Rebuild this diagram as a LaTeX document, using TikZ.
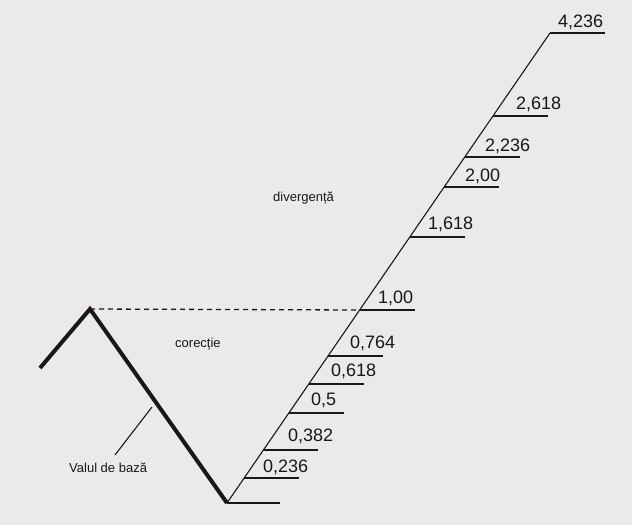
\documentclass[tikz,border=0pt]{standalone}
\usepackage{fontspec}
\setmainfont{Liberation Sans}
\usetikzlibrary{calc}
\definecolor{bg}{RGB}{236,234,232}
\definecolor{ink}{RGB}{24,24,24}
\begin{document}
\begin{tikzpicture}[x=1pt,y=-1pt,
  wave/.style={draw=ink,line width=4pt,line join=miter},
  thin/.style={draw=ink,line width=1.1pt},
  tick/.style={draw=ink,line width=1.3pt},
  lvl/.style={anchor=base west,inner sep=0pt,text=ink,font=\fontsize{18}{18}\selectfont},
  lab/.style={anchor=base west,inner sep=0pt,text=ink,font=\fontsize{13}{13}\selectfont},
  guide/.style={draw=ink,line width=1.3pt,dash pattern=on 5pt off 4pt}]
\fill[bg] (0,0) rectangle (632,525);
\useasboundingbox (0,0) rectangle (632,525);
% main wave
\coordinate (A) at (40,368);
\coordinate (P) at (90,309);
\coordinate (B) at (227,503);
\coordinate (T) at (550,33);
\coordinate (Bend) at (280,503);
\draw[wave] (A) -- (P) -- (B);
\draw[thin] (B) -- (T);
\draw[tick] (B) -- (Bend);
% tick start points on the diagonal
\foreach \nm/\yy in {t0236/478,t0382/450,t05/413,t0618/384,t0764/356,t100/310,t1618/237,t200/187,t2236/157,t2618/116,t4236/33}{
  \coordinate (\nm) at ($(B)!{(503-\yy)/470}!(T)$);
  \coordinate (\nm e) at ($(\nm)+(55,0)$);
  \draw[tick] (\nm) -- (\nm e);
}
% dashed guide
\draw[guide] (P) -- (t100);
% level labels
\node[lvl] (l0236) at (263,472.5) {0,236};
\node[lvl] (l0382) at (288,441.5) {0,382};
\node[lvl] (l05)   at (311,405.5) {0,5};
\node[lvl] (l0618) at (331,376.5) {0,618};
\node[lvl] (l0764) at (350,348.5) {0,764};
\node[lvl] (l100)  at (378,303.5) {1,00};
\node[lvl] (l1618) at (428,229.5) {1,618};
\node[lvl] (l200)  at (465,181.5) {2,00};
\node[lvl] (l2236) at (485,151.5) {2,236};
\node[lvl] (l2618) at (516,109.5) {2,618};
\node[lvl] (l4236) at (558,27.5)  {4,236};
% text labels
\node[lab] (cor) at (175,347) {corecție};
\node[lab] (div) at (273,201) {divergență};
\node[lab] (val) at (69,472) {Valul de bază};
\coordinate (vp) at (115,455);
\coordinate (vq) at (152,407);
\draw[thin] (vp) -- (vq);
\end{tikzpicture}
\end{document}
